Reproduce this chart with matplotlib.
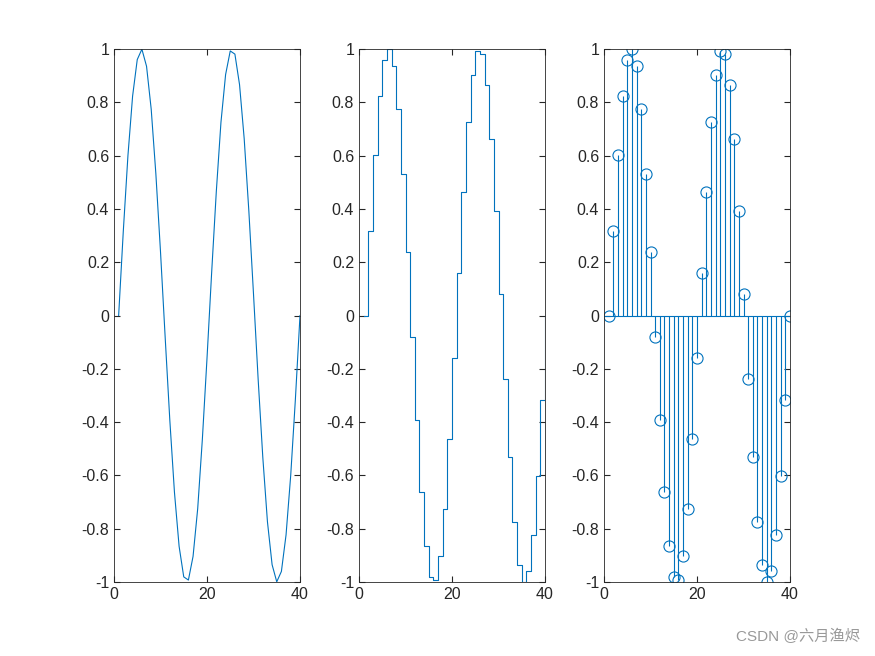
import matplotlib
matplotlib.use('Agg')
import matplotlib.pyplot as plt
import numpy as np

plt.rcParams['font.family'] = ['Liberation Sans', 'Noto Sans CJK SC', 'DejaVu Sans']

x = list(range(1, 41))
y = [0, 0.3167, 0.6006, 0.8232, 0.9603, 0.9992, 0.9350, 0.7742, 0.5320, 0.2393,
     -0.0805, -0.3918, -0.6631, -0.8660, -0.9808, -0.9927, -0.9040, -0.7247, -0.4647, -0.1609,
     0.1609, 0.4647, 0.7247, 0.9040, 0.9927, 0.9808, 0.8660, 0.6631, 0.3918, 0.0805,
     -0.2393, -0.5320, -0.7742, -0.9350, -0.9992, -0.9603, -0.8232, -0.6006, -0.3167, 0]
yticks = [-1, -0.8, -0.6, -0.4, -0.2, 0, 0.2, 0.4, 0.6, 0.8, 1]
ytick_labels = ['-1', '-0.8', '-0.6', '-0.4', '-0.2', '0', '0.2', '0.4', '0.6', '0.8', '1']
xticks = [0, 20, 40]

W, H = 875, 656
fig = plt.figure(figsize=(W/100, H/100), dpi=100)
c = '#0072BD'
lefts = [114, 359, 604]
aw = 186
top, bot = 49, 582
axes = []
for l in lefts:
    ax = fig.add_axes([l/W, 1-bot/H, aw/W, (bot-top)/H])
    axes.append(ax)

axes[0].plot(x, y, color=c, lw=0.8)
axes[1].step(x, y, where='post', color=c, lw=0.8)
ml, sl, bl = axes[2].stem(x, y, basefmt=' ')
plt.setp(sl, color=c, lw=0.8)
plt.setp(ml, marker='o', markerfacecolor='none', markeredgecolor=c, markersize=8, markeredgewidth=0.8)
axes[2].axhline(0, color=c, lw=0.8)

for ax in axes:
    ax.set_xlim(0, 40)
    ax.set_ylim(-1, 1)
    ax.set_xticks(xticks)
    ax.set_yticks(yticks)
    ax.set_yticklabels(ytick_labels)
    ax.tick_params(direction='in', top=True, right=True, labelsize=11.5, colors='#262626', length=4)
    for s in ax.spines.values():
        s.set_linewidth(0.6)
        s.set_color('#262626')

fig.text(860/W, 1-636/H, 'CSDN @六月渔烬', ha='right', va='center', fontsize=11, color='#999999')
fig.savefig('out.png', dpi=100)
